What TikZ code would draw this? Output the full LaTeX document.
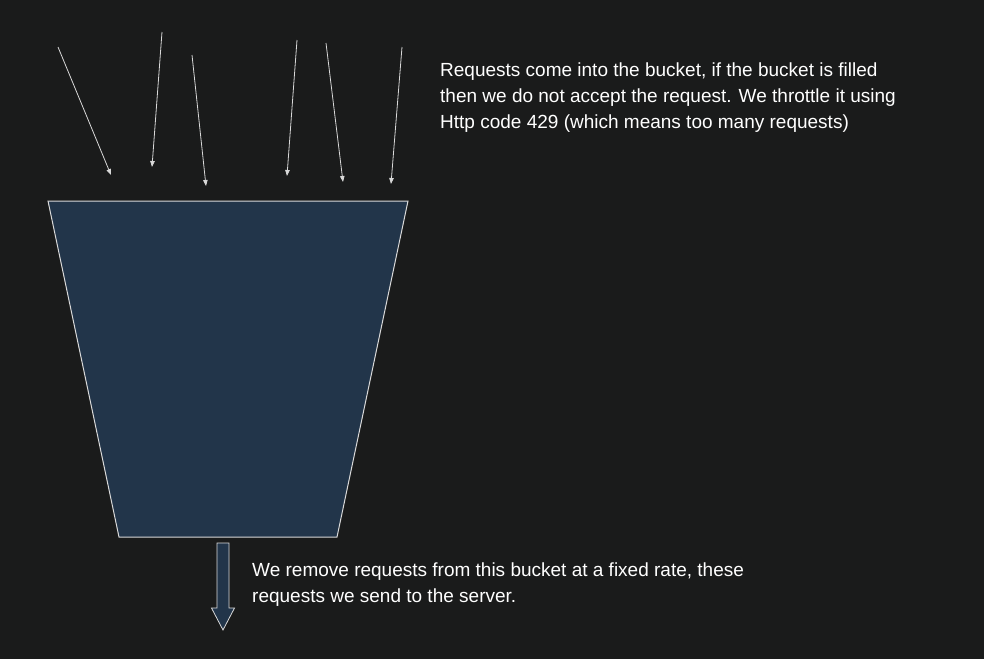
\documentclass[tikz,border=0pt]{standalone}
\usepackage{fontspec}
\setmainfont{Liberation Sans}
\usetikzlibrary{arrows.meta}
\definecolor{bg}{HTML}{1A1B1B}
\definecolor{bucket}{HTML}{22354A}
\definecolor{edge}{HTML}{D9D9D9}
\tikzset{req/.style={draw=edge,line width=0.8pt,-{Triangle[width=4.5pt,length=6pt]}},
 txt/.style={text=white,font=\fontsize{19}{26}\selectfont,align=left,anchor=north west,inner sep=0pt}}
\begin{document}
\begin{tikzpicture}[x=1pt,y=-1pt]
\fill[bg] (0,0) rectangle (984,659);
\useasboundingbox (0,0) rectangle (984,659);
\draw[fill=bucket,draw=edge,line width=1pt] (48,201) -- (408,201) -- (337,537) -- (119,537) -- cycle;
\node[coordinate] (b1) at (111,175) {};
\coordinate (a1) at (58,47); \coordinate (t1) at (111,175);
\coordinate (a2) at (162,32); \coordinate (t2) at (152,167);
\coordinate (a3) at (192,55); \coordinate (t3) at (206,186);
\coordinate (a4) at (297,40); \coordinate (t4) at (287,176);
\coordinate (a5) at (326,43); \coordinate (t5) at (343,182);
\coordinate (a6) at (402,47); \coordinate (t6) at (391,184);
\foreach \i in {1,...,6} \draw[req] (a\i) -- (t\i);
\draw[fill=bucket,draw=edge,line width=0.8pt] (217,543) -- (229,543) -- (229,608) -- (234.5,608) -- (223,630) -- (211.5,608) -- (217,608) -- cycle;
\node[txt] (top) at (440,63) {Requests come into the bucket, if the bucket is filled\\then we do not accept the request. We throttle it using\\Http code 429 (which means too many requests)};
\node[txt] (bot) at (252,563) {We remove requests from this bucket at a fixed rate, these\\requests we send to the server.};
\end{tikzpicture}
\end{document}
